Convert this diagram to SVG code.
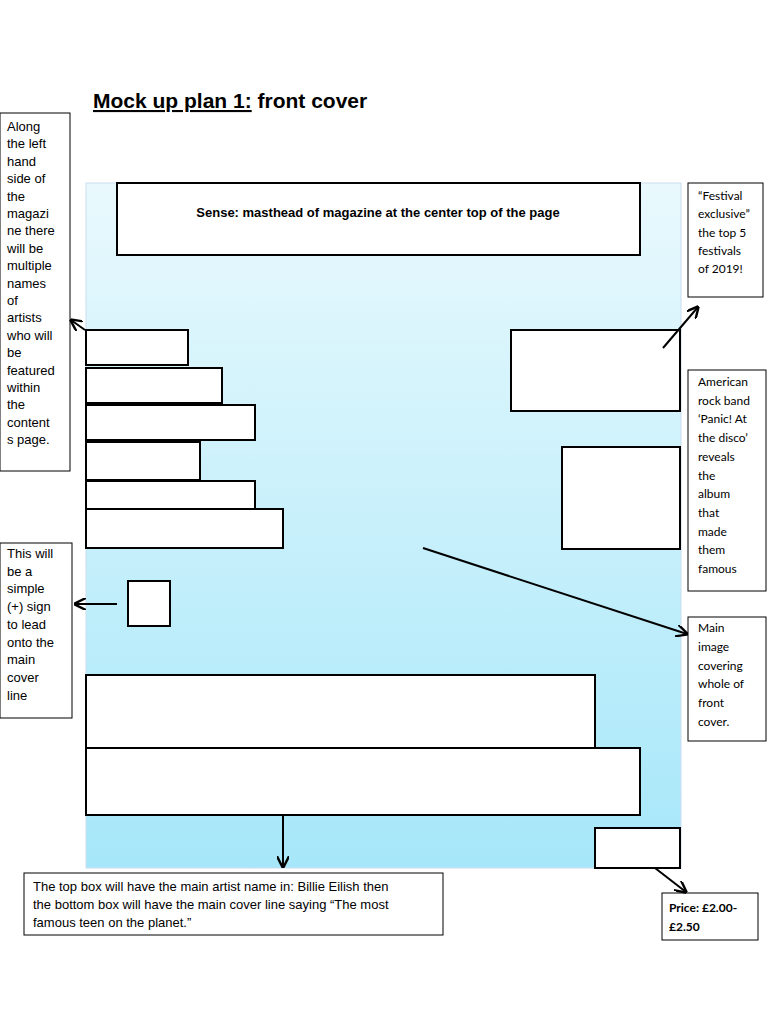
<svg xmlns="http://www.w3.org/2000/svg" width="768" height="1024" viewBox="0 0 768 1024">
<defs>
<linearGradient id="bg" x1="0" y1="0" x2="0" y2="1"><stop offset="0" stop-color="#e9f9fd"/><stop offset="1" stop-color="#a6e7f9"/></linearGradient>
<marker id="ah" viewBox="0 0 10 10" refX="9" refY="5" markerWidth="6" markerHeight="6" orient="auto"><path d="M0,0 L10,5 L0,10" fill="none" stroke="#000" stroke-width="2"/></marker>
<style>
.b{fill:#fff;stroke:#000;stroke-width:2}
.n{fill:#fff;stroke:#000;stroke-width:1}
.t{font-family:"Liberation Sans",Arial,sans-serif;font-size:13px;fill:#000}
.c{font-family:Lato,"Liberation Sans",sans-serif;font-size:12px;fill:#000}
.l{stroke:#000;stroke-width:2;fill:none;marker-end:url(#ah)}
</style>
</defs>
<rect width="768" height="1024" fill="#fff"/>
<text x="93" y="108" style="font-family:'Liberation Sans',Arial,sans-serif;font-size:21px;font-weight:bold"><tspan text-decoration="underline">Mock up plan 1:</tspan> front cover</text>
<rect x="86" y="183" width="595" height="685" fill="url(#bg)" stroke="#cde" stroke-width="1"/>
<g id="masthead"><rect class="b" x="117" y="183" width="523" height="72"/><text x="378" y="217" text-anchor="middle" style="font-family:'Liberation Sans',Arial,sans-serif;font-size:13px;font-weight:bold">Sense: masthead of magazine at the center top of the page</text></g>
<g id="bars"><rect class="b" x="86" y="330" width="102" height="35"/><rect class="b" x="86" y="368" width="136" height="35"/><rect class="b" x="86" y="405" width="169" height="35"/><rect class="b" x="86" y="442" width="114" height="38"/><rect class="b" x="86" y="481" width="169" height="28"/><rect class="b" x="86" y="509" width="197" height="39"/></g>
<g id="plus"><rect class="b" x="128" y="581" width="42" height="45"/></g>
<g id="rbox1"><rect class="b" x="511" y="330" width="169" height="81"/></g>
<g id="rbox2"><rect class="b" x="562" y="447" width="118" height="102"/></g>
<g id="artist"><rect class="b" x="86" y="675" width="509" height="73"/></g>
<g id="coverline"><rect class="b" x="86" y="748" width="554" height="67"/></g>
<g id="price"><rect class="b" x="595" y="828" width="85" height="40"/></g>
<g id="noteLeft"><rect class="n" x="0" y="113" width="70" height="358"/><text class="t" x="7" y="131">
<tspan x="7" dy="0">Along</tspan><tspan x="7" dy="17.4">the left</tspan><tspan x="7" dy="17.4">hand</tspan><tspan x="7" dy="17.4">side of</tspan><tspan x="7" dy="17.4">the</tspan><tspan x="7" dy="17.4">magazi</tspan><tspan x="7" dy="17.4">ne there</tspan><tspan x="7" dy="17.4">will be</tspan><tspan x="7" dy="17.4">multiple</tspan><tspan x="7" dy="17.4">names</tspan><tspan x="7" dy="17.4">of</tspan><tspan x="7" dy="17.4">artists</tspan><tspan x="7" dy="17.4">who will</tspan><tspan x="7" dy="17.4">be</tspan><tspan x="7" dy="17.4">featured</tspan><tspan x="7" dy="17.4">within</tspan><tspan x="7" dy="17.4">the</tspan><tspan x="7" dy="17.4">content</tspan><tspan x="7" dy="17.4">s page.</tspan></text></g>
<g id="notePlus"><rect class="n" x="0" y="543" width="72" height="175"/><text class="t" x="7" y="558"><tspan x="7" dy="0">This will</tspan><tspan x="7" dy="17.7">be a</tspan><tspan x="7" dy="17.7">simple</tspan><tspan x="7" dy="17.7">(+) sign</tspan><tspan x="7" dy="17.7">to lead</tspan><tspan x="7" dy="17.7">onto the</tspan><tspan x="7" dy="17.7">main</tspan><tspan x="7" dy="17.7">cover</tspan><tspan x="7" dy="17.7">line</tspan></text></g>
<g id="noteFest"><rect class="n" x="688" y="183" width="75" height="114"/><text class="c" x="698" y="200"><tspan x="698" dy="0">“Festival</tspan><tspan x="698" dy="18.3">exclusive”</tspan><tspan x="698" dy="18.3">the top 5</tspan><tspan x="698" dy="18.3">festivals</tspan><tspan x="698" dy="18.3">of 2019!</tspan></text></g>
<g id="notePanic"><rect class="n" x="688" y="370" width="78" height="221"/><text class="c" x="698" y="386"><tspan x="698" dy="0">American</tspan><tspan x="698" dy="18.7">rock band</tspan><tspan x="698" dy="18.7">‘Panic! At</tspan><tspan x="698" dy="18.7">the disco’</tspan><tspan x="698" dy="18.7">reveals</tspan><tspan x="698" dy="18.7">the</tspan><tspan x="698" dy="18.7">album</tspan><tspan x="698" dy="18.7">that</tspan><tspan x="698" dy="18.7">made</tspan><tspan x="698" dy="18.7">them</tspan><tspan x="698" dy="18.7">famous</tspan></text></g>
<g id="noteImage"><rect class="n" x="688" y="617" width="78" height="124"/><text class="c" x="698" y="632"><tspan x="698" dy="0">Main</tspan><tspan x="698" dy="18.8">image</tspan><tspan x="698" dy="18.8">covering</tspan><tspan x="698" dy="18.8">whole of</tspan><tspan x="698" dy="18.8">front</tspan><tspan x="698" dy="18.8">cover.</tspan></text></g>
<g id="noteBottom"><rect class="n" x="24" y="873" width="419" height="62"/><text class="t" x="33" y="891"><tspan x="33" dy="0">The top box will have the main artist name in: Billie Eilish then</tspan><tspan x="33" dy="18">the bottom box will have the main cover line saying “The most</tspan><tspan x="33" dy="18">famous teen on the planet.”</tspan></text></g>
<g id="notePrice"><rect class="n" x="662" y="893" width="96" height="47"/><text class="c" x="669" y="912" font-weight="bold"><tspan x="669" dy="0">Price: £2.00-</tspan><tspan x="669" dy="19">£2.50</tspan></text></g>
<g id="connectors">
<line class="l" x1="85" y1="330" x2="71" y2="320"/>
<line class="l" x1="117" y1="604" x2="75" y2="604"/>
<line class="l" x1="663" y1="348" x2="698" y2="307"/>
<line class="l" x1="423" y1="548" x2="687" y2="634"/>
<line class="l" x1="283" y1="815" x2="283" y2="867"/>
<line class="l" x1="655" y1="868" x2="686" y2="892"/>
</g>
</svg>
